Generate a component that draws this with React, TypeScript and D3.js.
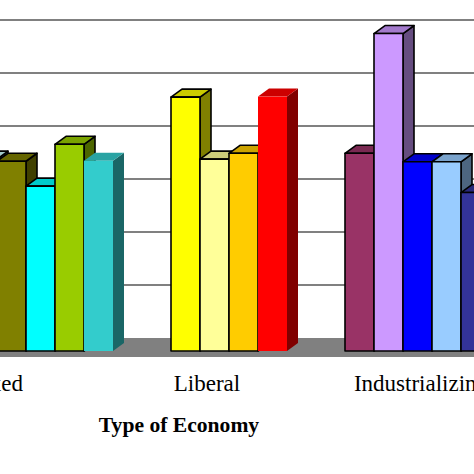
import { useEffect, useRef } from 'react';
import * as d3 from 'd3';

// categories on the x axis
const categories = ['Mixed', 'Liberal', 'Industrializing'];

// one value per bar slot inside each category (null = no bar)
const mixedValues = [3.62, 3.58, 3.11, 3.9, 3.59, null];
const liberalValues = [null, 4.79, 3.62, 3.73, 4.8, null];
const industrializingValues = [null, 3.73, 5.99, 3.57, 3.57, 2.99];

const yTicks = [0, 1, 2, 3, 4, 5, 6];

// bar colours (excel palette)
const mixedColors = ['#CCFFFF', '#808000', '#00FFFF', '#99CC00', '#33CCCC', '#000000'];
const liberalColors = ['#000000', '#FFFF00', '#FFFF99', '#FFCC00', '#FF0000', '#000000'];
const industrializingColors = ['#000000', '#993366', '#CC99FF', '#0000FF', '#99CCFF', '#333399'];

// which bars have a black border
const mixedBorder = [true, true, true, true, false, true];
const liberalBorder = [true, true, true, true, false, true];
const industrializingBorder = [true, true, true, true, true, true];

const seriesValues = [mixedValues, liberalValues, industrializingValues];
const seriesColors = [mixedColors, liberalColors, industrializingColors];
const seriesBorder = [mixedBorder, liberalBorder, industrializingBorder];

const W = 474;
const H = 474;

const shade = (c: string, k: number) => {
  const r = d3.rgb(c);
  return d3.rgb(r.r * k, r.g * k, r.b * k).formatHex();
};

const App = () => {
  const svgRef = useRef<any>(null);

  useEffect(() => {
    const svg = d3.select(svgRef.current);
    svg.selectAll('*').remove();

    // 3d offsets
    const ddx = 11;   // bar depth, horizontal
    const ddy = -8;   // bar depth, vertical
    const frontDrop = 13; // bar front plane below back wall
    const floorDrop = 19;
    const floorShift = 26;

    const y = d3.scaleLinear().domain([0, 6]).range([338, 20]);

    const xCat = d3.scaleBand<string>().domain(categories).range([-32, 490]).paddingInner(0);
    const xSlot = d3.scaleBand<number>().domain(d3.range(6)).range([0, xCat.bandwidth()]);

    // label positions along the floor front edge
    const xLabel = d3.scalePoint<string>().domain(categories).range([-7, 421]);

    // back wall gridlines
    svg.append('g')
      .selectAll('line')
      .data(yTicks.filter(t => t > 0))
      .join('line')
      .attr('x1', 0)
      .attr('x2', W)
      .attr('y1', d => y(d))
      .attr('y2', d => y(d))
      .attr('stroke', '#808080')
      .attr('stroke-width', 2);

    // floor
    const y0 = y(0);
    svg.append('polygon')
      .attr('points', [
        [-60, y0], [W + 60, y0],
        [W + 60 - floorShift, y0 + floorDrop], [-60 - floorShift, y0 + floorDrop],
      ].map(p => p.join(',')).join(' '))
      .attr('fill', '#808080');

    // bars
    const g = svg.append('g').attr('stroke-linejoin', 'round');
    categories.forEach((cat, ci) => {
      seriesValues[ci].forEach((v, si) => {
        if (v == null) return;
        const col = seriesColors[ci][si];
        const stroke = seriesBorder[ci][si] ? '#000' : 'none';
        const x0 = (xCat(cat) as number) + (xSlot(si) as number);
        const w = xSlot.bandwidth();
        const top = y(v) + frontDrop;
        const bot = y(0) + frontDrop;
        const pts = (a: number[][]) => a.map(p => p.join(',')).join(' ');

        g.append('polygon')
          .attr('points', pts([[x0 + w, top], [x0 + w + ddx, top + ddy], [x0 + w + ddx, bot + ddy], [x0 + w, bot]]))
          .attr('fill', shade(col, 0.5))
          .attr('stroke', stroke)
          .attr('stroke-width', 1.6);
        g.append('polygon')
          .attr('points', pts([[x0, top], [x0 + w, top], [x0 + w + ddx, top + ddy], [x0 + ddx, top + ddy]]))
          .attr('fill', shade(col, 0.8))
          .attr('stroke', stroke)
          .attr('stroke-width', 1.6);
        g.append('rect')
          .attr('x', x0)
          .attr('y', top)
          .attr('width', w)
          .attr('height', bot - top)
          .attr('fill', col)
          .attr('stroke', stroke)
          .attr('stroke-width', 1.6);
      });
    });

    // category labels
    svg.append('g')
      .selectAll('text')
      .data(categories)
      .join('text')
      .attr('x', d => xLabel(d) as number)
      .attr('y', 391)
      .attr('text-anchor', 'middle')
      .attr('font-family', '"Liberation Serif", "Times New Roman", serif')
      .attr('font-size', 23)
      .attr('fill', '#000')
      .text(d => d);

    // axis title
    svg.append('text')
      .attr('x', 179)
      .attr('y', 432)
      .attr('text-anchor', 'middle')
      .attr('font-family', '"Liberation Serif", "Times New Roman", serif')
      .attr('font-size', 21.6)
      .attr('font-weight', 'bold')
      .attr('fill', '#000')
      .text('Type of Economy');
  }, []);

  return (
    <svg
      ref={svgRef}
      width={W}
      height={H}
      style={{ position: 'absolute', left: 0, top: 0, background: '#fff' }}
    />
  );
};

export default App;
